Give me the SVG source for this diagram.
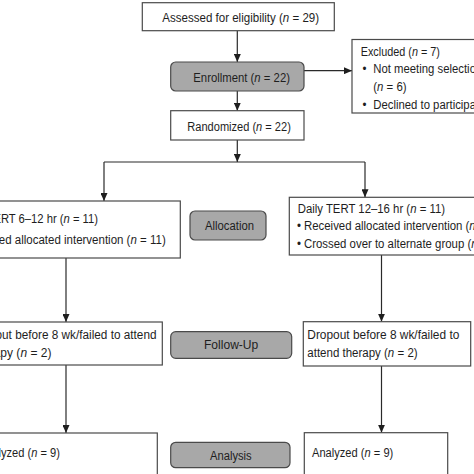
<svg xmlns="http://www.w3.org/2000/svg" width="474" height="474" viewBox="0 0 474 474">
<style>
.box{fill:#fff;stroke:#4a4a4a;stroke-width:1.2}
.gbox{fill:#a8a8a8;stroke:#4a4a4a;stroke-width:1.2}
text{font-family:"Liberation Sans",Arial,sans-serif;font-size:13.5px;fill:#1e1e1e}
.i{font-style:italic}
.ln{fill:none;stroke:#2a2a2a;stroke-width:1.2}
</style>
<defs>
<marker id="ah" markerUnits="userSpaceOnUse" markerWidth="8" markerHeight="7" refX="8" refY="3.5" orient="auto">
<path d="M0,0 L8,3.5 L0,7 z" fill="#1e1e1e"/>
</marker>
</defs>
<rect width="474" height="474" fill="#fff"/>
<g id="connectors">
<path class="ln" d="M237.3,30.7 V62" marker-end="url(#ah)"/>
<path class="ln" d="M304,70.7 H352" marker-end="url(#ah)"/>
<path class="ln" d="M237.3,91 V110.7" marker-end="url(#ah)"/>
<path class="ln" d="M237.3,140 V162" marker-end="url(#ah)"/>
<path class="ln" d="M104,162 H365"/>
<path class="ln" d="M104,162 V201" marker-end="url(#ah)"/>
<path class="ln" d="M365,162 V197.3" marker-end="url(#ah)"/>
<path class="ln" d="M66,258 V322" marker-end="url(#ah)"/>
<path class="ln" d="M381.5,255 V321.7" marker-end="url(#ah)"/>
<path class="ln" d="M66,365 V433" marker-end="url(#ah)"/>
<path class="ln" d="M381.5,366 V432.7" marker-end="url(#ah)"/>
</g>
<g id="assessed">
<rect class="box" x="142.3" y="2.7" width="192" height="28"/>
<text transform="translate(162.3,21.5) scale(0.856,1)">Assessed for eligibility (<tspan class="i">n</tspan> = 29)</text>
</g>
<g id="enrollment">
<rect class="gbox" x="170.7" y="62" width="133.3" height="29" rx="5"/>
<text transform="translate(193.3,81.5) scale(0.84,1)">Enrollment (<tspan class="i">n</tspan> = 22)</text>
</g>
<g id="excluded">
<rect class="box" x="352" y="39.5" width="130" height="73.5"/>
<text transform="translate(360.7,56) scale(0.803,1)">Excluded (<tspan class="i">n</tspan> = 7)</text>
<text transform="translate(362.5,72.5) scale(0.84,1)">•</text>
<text transform="translate(373.3,72.5) scale(0.84,1)">Not meeting selection criteria</text>
<text transform="translate(373.3,90.5) scale(0.845,1)">(<tspan class="i">n</tspan> = 6)</text>
<text transform="translate(362.5,108.5) scale(0.84,1)">•</text>
<text transform="translate(373.3,108.5) scale(0.84,1)">Declined to participate (<tspan class="i">n</tspan> = 1)</text>
</g>
<g id="randomized">
<rect class="box" x="170.7" y="110.7" width="133.3" height="29.3"/>
<text transform="translate(187.3,130.5) scale(0.82,1)">Randomized (<tspan class="i">n</tspan> = 22)</text>
</g>
<g id="left-alloc">
<rect class="box" x="-50" y="201" width="230.3" height="57"/>
<text transform="translate(-41.3,222.5) scale(0.833,1)">Daily TERT 6–12 hr (<tspan class="i">n</tspan> = 11)</text>
<text transform="translate(-42,244) scale(0.85,1)">•</text>
<text transform="translate(-36.3,244) scale(0.852,1)">Received allocated intervention (<tspan class="i">n</tspan> = 11)</text>
</g>
<g id="allocation">
<rect class="gbox" x="190" y="211" width="76" height="29" rx="5"/>
<text transform="translate(205,230) scale(0.837,1)">Allocation</text>
</g>
<g id="right-alloc">
<rect class="box" x="289.3" y="197.3" width="200" height="57.7"/>
<text transform="translate(297.7,212.5) scale(0.843,1)">Daily TERT 12–16 hr (<tspan class="i">n</tspan> = 11)</text>
<text transform="translate(297,230) scale(0.845,1)">•</text>
<text transform="translate(304,230) scale(0.845,1)">Received allocated intervention (<tspan class="i">n</tspan> = 9)</text>
<text transform="translate(297,247.5) scale(0.845,1)">•</text>
<text transform="translate(304,247.5) scale(0.845,1)">Crossed over to alternate group (<tspan class="i">n</tspan> = 2)</text>
</g>
<g id="left-followup">
<rect class="box" x="-50" y="322" width="212.3" height="43"/>
<text transform="translate(-30,339) scale(0.873,1)">Dropout before 8 wk/failed to attend</text>
<text transform="translate(-27,357) scale(0.89,1)">therapy (<tspan class="i">n</tspan> = 2)</text>
</g>
<g id="followup">
<rect class="gbox" x="170.7" y="331.7" width="121" height="26.6" rx="5"/>
<text transform="translate(204,349) scale(0.894,1)">Follow-Up</text>
</g>
<g id="right-followup">
<rect class="box" x="303.3" y="321.7" width="167.4" height="44.3"/>
<text transform="translate(307.3,339) scale(0.881,1)">Dropout before 8 wk/failed to</text>
<text transform="translate(307.3,357) scale(0.853,1)">attend therapy (<tspan class="i">n</tspan> = 2)</text>
</g>
<g id="left-analysis">
<rect class="box" x="-50" y="433" width="207.3" height="50"/>
<text transform="translate(-21.3,457) scale(0.824,1)">Analyzed (<tspan class="i">n</tspan> = 9)</text>
</g>
<g id="analysis">
<rect class="gbox" x="170.7" y="442.3" width="119.3" height="25.4" rx="5"/>
<text transform="translate(210,459.5) scale(0.83,1)">Analysis</text>
</g>
<g id="right-analysis">
<rect class="box" x="304.3" y="432.7" width="143.4" height="50"/>
<text transform="translate(312,457) scale(0.824,1)">Analyzed (<tspan class="i">n</tspan> = 9)</text>
</g>
</svg>
